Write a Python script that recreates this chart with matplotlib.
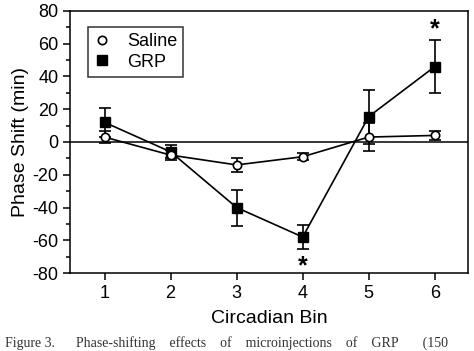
import matplotlib
matplotlib.use("Agg")
import matplotlib.pyplot as plt
from matplotlib.lines import Line2D

# data
bins = [1, 2, 3, 4, 5, 6]
saline = [3, -8, -14, -9, 3, 4]
saline_err = [3.5, 3, 4.5, 2, 8.5, 3]
grp = [12, -6, -40, -58, 15.5, 46]
grp_err = [9, 4, 11, 7.5, 16.5, 16]
star_bins = [4, 6]
star_y = [-76, 69]

plt.rcParams['font.family'] = ['Liberation Sans', 'DejaVu Sans']
plt.rcParams['axes.unicode_minus'] = False

fig = plt.figure(figsize=(4.74, 3.51), dpi=100)
ax = fig.add_axes([0.148, 0.222, 0.839, 0.747])

ax.axhline(0, color='black', lw=1.1, zorder=1)

ax.errorbar(bins, grp, yerr=grp_err, color='black', lw=1.2, marker='s',
            ms=6.5, mfc='black', mec='black', capsize=4, capthick=1.2,
            elinewidth=1.2, zorder=3)
ax.errorbar(bins, saline, yerr=saline_err, color='black', lw=1.2, marker='o',
            ms=6, mfc='white', mec='black', mew=1.2, capsize=4, capthick=1.2,
            elinewidth=1.2, zorder=4)

for b, y in zip(star_bins, star_y):
    ax.text(b, y, '*', ha='center', va='center', fontsize=18, fontweight='bold')

ax.set_xlim(0.48, 6.5)
ax.set_ylim(-80, 80)
ax.set_xticks(bins)
ax.set_yticks(range(-80, 81, 20))
ax.set_yticks(range(-80, 81, 10), minor=True)
ax.tick_params(axis='both', direction='out', labelsize=13, width=1.1, length=5)
ax.tick_params(axis='y', which='minor', direction='out', width=1.1, length=3)
for s in ax.spines.values():
    s.set_linewidth(1.1)

ax.set_xlabel('Circadian Bin', fontsize=14, labelpad=6)
ax.set_ylabel('Phase Shift (min)', fontsize=14, labelpad=2)

handles = [
    Line2D([], [], ls='none', marker='o', ms=6, mfc='white', mec='black', mew=1.2),
    Line2D([], [], ls='none', marker='s', ms=6.5, mfc='black', mec='black'),
]
leg = ax.legend(handles, ['Saline', 'GRP'], loc='upper left',
                bbox_to_anchor=(0.045, 0.94), fontsize=13, frameon=True,
                fancybox=False, edgecolor='black', handlelength=0.8,
                handletextpad=1.0, borderpad=0.35, labelspacing=0.2,
                borderaxespad=0)
leg.get_frame().set_linewidth(1.1)

fig.text(0.01, 0.004,
         'Figure 3.      Phase-shifting    effects    of    microinjections    of    GRP       (150',
         fontsize=10, family='Liberation Serif', color='#333333', va='bottom')

fig.savefig('out.png', dpi=100)
